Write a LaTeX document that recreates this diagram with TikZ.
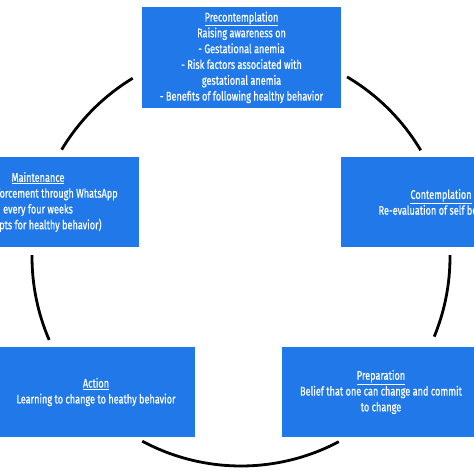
\documentclass[tikz,border=0pt]{standalone}
\usepackage{fontspec}
\newfontfamily\condfont[FakeStretch=0.73,FakeBold=0.6]{Fira Sans}
\definecolor{boxblue}{RGB}{33,120,233}
\tikzset{
  stage/.style={rectangle, fill=boxblue, text=white, align=center,
    inner sep=0pt, minimum width=200pt, minimum height=90pt,
    font=\condfont\fontsize{12.5}{15.8}\selectfont},
  cycle/.style={line width=2.8pt, black}
}
\begin{document}
\begin{tikzpicture}[x=1pt,y=1pt]
\useasboundingbox (0,0) rectangle (474,474);
\clip (0,0) rectangle (474,474);
\fill[white] (0,0) rectangle (474,474);
\node[stage, minimum width=199pt, minimum height=101pt] (pre) at (241.5,416.5)
  {\underline{Precontemplation}\\Raising awareness on\\- Gestational anemia\\- Risk factors associated with\\gestational anemia\\- Benefits of following healthy behavior};
\node[stage, minimum width=202pt] (main) at (38,272)
  {\underline{Maintenance}\\\hspace*{20pt}Reinforcement through WhatsApp\\every four weeks\\(prompts for healthy behavior)};
\node[stage] (cont) at (441,272)
  {\underline{Contemplation}\\Re-evaluation of self behavior};
\node[stage, minimum width=198pt] (act) at (96,82)
  {\underline{Action}\\Learning to change to heathy behavior};
\node[stage, minimum width=198pt] (prep) at (381,82)
  {\underline{Preparation}\\Belief that one can change and commit\\to change};
\coordinate (c) at (241,217);
\draw[cycle] (c) ++(59.5:209) arc[start angle=59.5, end angle=30.7, radius=209];
\draw[cycle] (c) ++(0.5:209) arc[start angle=0.5, end angle=-22.4, radius=209];
\draw[cycle] (c) ++(-62.1:209) arc[start angle=-62.1, end angle=-118.2, radius=209];
\draw[cycle] (c) ++(203.4:209) arc[start angle=203.4, end angle=179.5, radius=209];
\draw[cycle] (c) ++(149.1:209) arc[start angle=149.1, end angle=121.2, radius=209];
\end{tikzpicture}
\end{document}
